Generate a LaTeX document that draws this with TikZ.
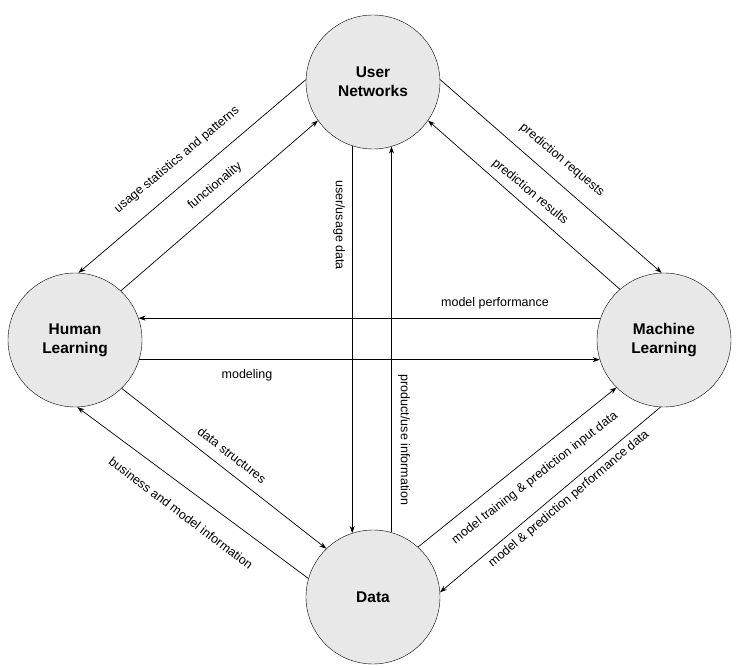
\documentclass[tikz,border=0pt]{standalone}
\usepackage{fontspec}
\setmainfont{Liberation Sans}
\usetikzlibrary{arrows.meta}
\definecolor{circfill}{HTML}{E8E8E8}
\begin{document}
\begin{tikzpicture}[x=1pt,y=-1pt,
  circ/.style={circle,draw=black,fill=circfill,minimum size=134pt,inner sep=0pt,align=center,font=\bfseries\fontsize{15.5}{19}\selectfont},
  conn/.style={-{Stealth[length=7pt,width=5pt]},line width=0.7pt},
  lbl/.style={font=\fontsize{12.5}{15}\selectfont,inner sep=0pt}]
\useasboundingbox (0,0) rectangle (737,668);
\node[circ] (un) at (373,82) {User\\Networks};
\node[circ] (hl) at (75,340) {Human\\Learning};
\node[circ] (ml) at (664,340) {Machine\\Learning};
\node[circ] (da) at (373,597) {Data};
\draw[conn] (un.178) -- (hl.87);
\draw[conn] (hl.47) -- (un.215);
\draw[conn] (un.2) -- (ml.92);
\draw[conn] (ml.131) -- (un.-35);
\draw[conn] (ml.161) -- (hl.19);
\draw[conn] (hl.-17) -- (ml.197);
\draw[conn] (un.252) -- (da.108);
\draw[conn] (da.74) -- (un.286);
\draw[conn] (da.48) -- (ml.225);
\draw[conn] (ml.267) -- (da.4);
\draw[conn] (hl.314) -- (da.134);
\draw[conn] (da.164) -- (hl.272);
\node[lbl,rotate=40] (l1) at (177,160) {usage statistics and patterns};
\node[lbl,rotate=40] (l2) at (215,186) {functionality};
\node[lbl,rotate=-40] (l3) at (562,160) {prediction requests};
\node[lbl,rotate=-40] (l4) at (530,192) {prediction results};
\node[lbl] (l5) at (495,303) {model performance};
\node[lbl] (l6) at (247,375) {modeling};
\node[lbl,rotate=-90] (l7) at (339,225) {user/usage data};
\node[lbl,rotate=-90] (l8) at (404,440) {product/use information};
\node[lbl,rotate=-38] (l9) at (232,455) {data structures};
\node[lbl,rotate=-37] (l10) at (181,513) {business and model information};
\node[lbl,rotate=38] (l11) at (535,478) {model training \& prediction input data};
\node[lbl,rotate=40] (l12) at (569,499) {model \& prediction performance data};
\end{tikzpicture}
\end{document}
